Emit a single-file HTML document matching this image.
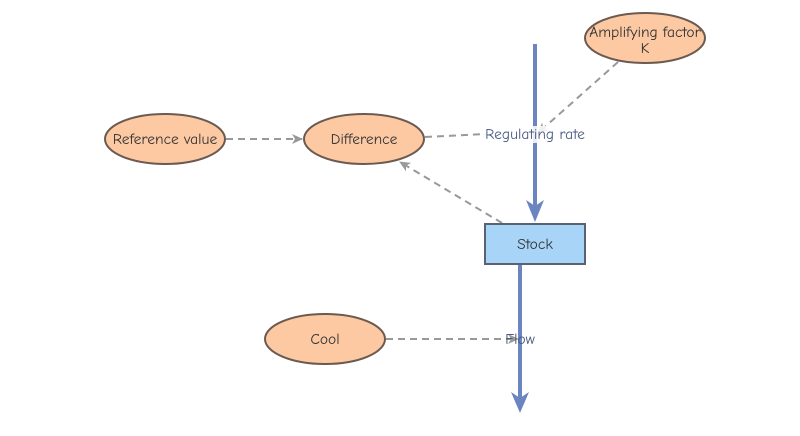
<!DOCTYPE html>
<html><head><meta charset="utf-8"><style>
html,body{margin:0;padding:0;background:#fff;}
svg{display:block;}
text{font-family:"Comic Neue","Comic Sans MS","Liberation Sans",sans-serif;font-size:15.5px;}
</style></head><body>
<svg width="800" height="436" viewBox="0 0 800 436" xmlns="http://www.w3.org/2000/svg">
<defs>
<marker id="ga" markerWidth="12" markerHeight="12" refX="10" refY="6" orient="auto" markerUnits="userSpaceOnUse">
<path d="M0,1 L11,6 L0,11 L3,6 Z" fill="#999"/>
</marker>
</defs>
<line x1="535" y1="44" x2="535" y2="206" stroke="#6a85c0" stroke-width="4"/>
<path d="M526,200 L535,222 L544,200 L535,206 Z" fill="#6a85c0"/>
<line x1="520" y1="264" x2="520" y2="398" stroke="#6a85c0" stroke-width="4"/>
<path d="M511,392 L520,413 L529,392 L520,398 Z" fill="#6a85c0"/>
<g stroke="#999" stroke-width="2" stroke-dasharray="7,5" fill="none">
<line x1="226" y1="139" x2="302" y2="139" marker-end="url(#ga)"/>
<line x1="618" y1="62" x2="538" y2="133" marker-end="url(#ga)"/>
<line x1="425" y1="137" x2="486" y2="134"/>
<line x1="502" y1="223" x2="400" y2="162" marker-end="url(#ga)"/>
<line x1="386" y1="339" x2="518" y2="339" marker-end="url(#ga)"/>
</g>
<rect x="484" y="126" width="102" height="17" fill="#fff" opacity="0.85"/>
<text x="535" y="139" text-anchor="middle" fill="#4a5a80">Regulating rate</text>
<text x="520" y="344" text-anchor="middle" fill="#4a5a80">Flow</text>
<g fill="#fdc9a3" stroke="#6b5a50" stroke-width="2">
<ellipse cx="165" cy="139" rx="60" ry="25"/>
<ellipse cx="364" cy="139" rx="60" ry="25"/>
<ellipse cx="645" cy="38" rx="60" ry="25"/>
<ellipse cx="325" cy="339" rx="60" ry="25"/>
</g>
<rect x="485" y="224" width="100" height="40" fill="#a8d4f8" stroke="#5a6170" stroke-width="2"/>
<g fill="#333" text-anchor="middle">
<text x="165" y="144">Reference value</text>
<text x="364" y="144">Difference</text>
<text x="645" y="37">Amplifying factor</text>
<text x="645" y="53">K</text>
<text x="325" y="344">Cool</text>
<text x="535" y="249">Stock</text>
</g>
</svg>
</body></html>
